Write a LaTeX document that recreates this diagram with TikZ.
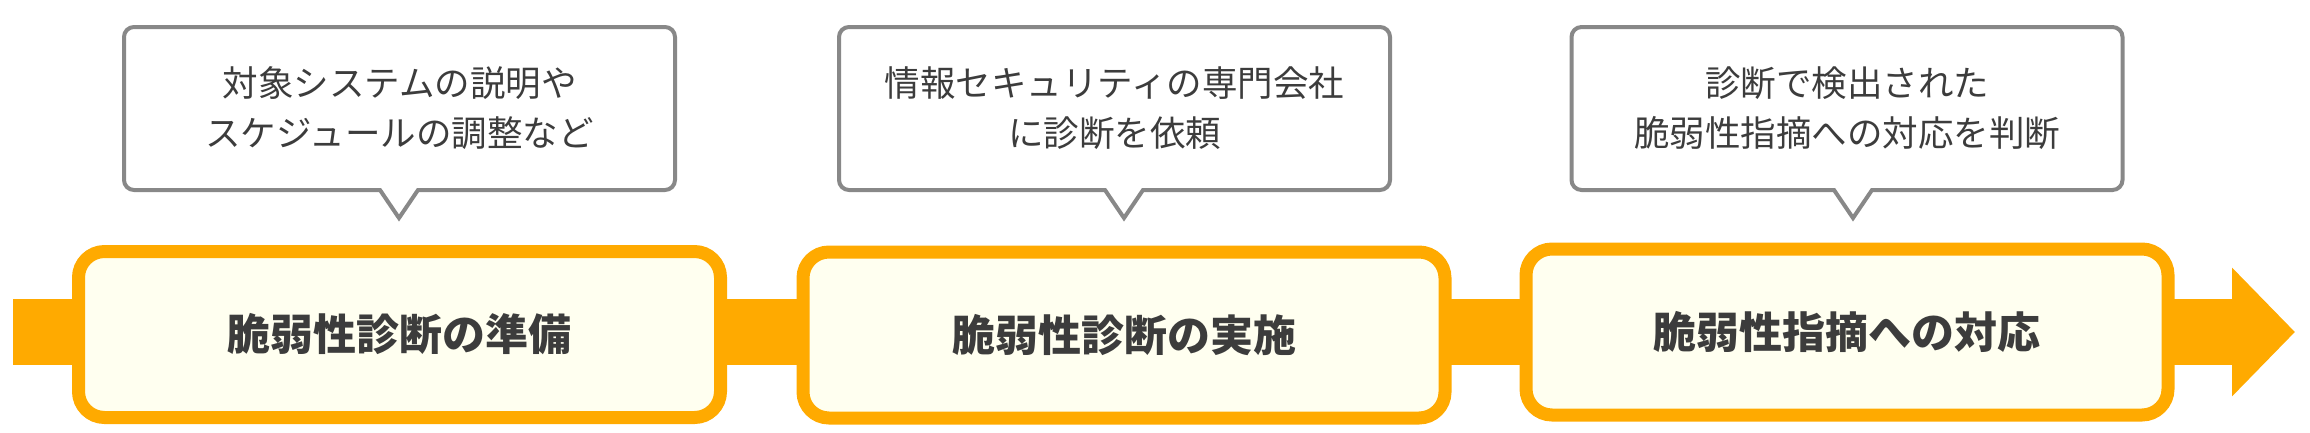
\documentclass[tikz,border=0pt]{standalone}
\usepackage{fontspec}
\setmainfont{Noto Sans CJK JP}
\usetikzlibrary{arrows.meta,positioning}
\definecolor{bandorange}{HTML}{FFAA00}
\definecolor{stagefill}{HTML}{FFFFF0}
\definecolor{notegray}{HTML}{888888}
\definecolor{textgray}{HTML}{3C3C3C}

\begin{document}
\begin{tikzpicture}[x=1pt,y=-1pt,line join=miter,
    stagebox/.style={draw=bandorange,line width=13pt,fill=stagefill,rounded corners=26pt,
      minimum width=642pt,minimum height=166pt,inner sep=0pt,outer sep=0pt,
      text=textgray,font=\fontsize{43}{50}\selectfont\bfseries},
    notebox/.style={minimum width=551pt,minimum height=163pt,inner sep=0pt,outer sep=0pt,
      align=center,text=textgray,font=\fontsize{35.5}{50}\selectfont},
    noteline/.style={draw=notegray,line width=4pt}]
    \useasboundingbox (0,0) rectangle (2310,432);

    \coordinate (tail) at (13,332);
    \coordinate (head) at (2295,332);
    \draw[bandorange,line width=66pt,-{Triangle[length=63pt,width=125pt]}] (tail) -- (head);

    \node[stagebox] (prep) at (399.5,334.5) {脆弱性診断の準備};
    \node[stagebox] (run) at (1124,335) {脆弱性診断の実施};
    \node[stagebox] (fix) at (1847,332) {脆弱性指摘への対応};

    \node[notebox] (prepnote) at (399.5,108.5) {対象システムの説明や\\スケジュールの調整など};
    \node[notebox] (runnote) at (1114.5,108.5) {情報セキュリティの専門会社\\に診断を依頼};
    \node[notebox] (fixnote) at (1847,108.5) {診断で検出された\\脆弱性指摘への対応を判断};

    \foreach \n/\px in {prepnote/399,runnote/1124,fixnote/1853}
      \draw[noteline] (\px+19,190) [rounded corners=10pt] -| (\n.north east) -| (\n.south west)
        [sharp corners] -- (\px-19,190) -- (\px,218) -- cycle;
  \end{tikzpicture}
\end{document}
